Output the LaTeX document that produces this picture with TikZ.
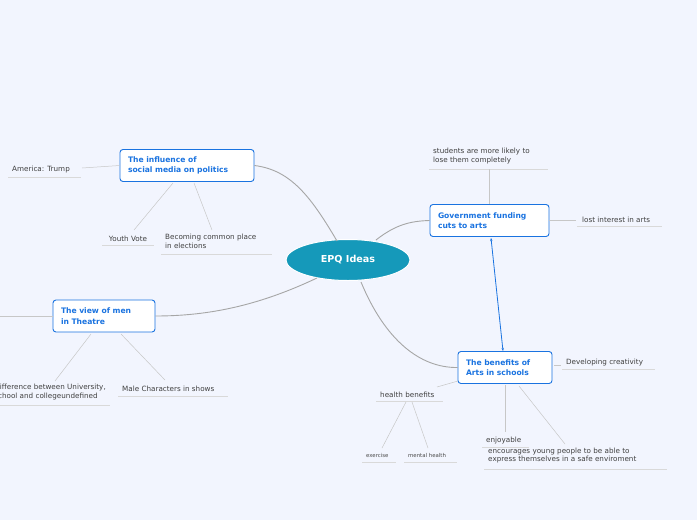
\documentclass[tikz,border=0pt]{standalone}
\usepackage{fontspec}
\setmainfont{DejaVu Sans}
\usetikzlibrary{shapes.geometric,arrows.meta}
\begin{document}
\begin{tikzpicture}[x=1pt,y=-1pt,
  mainbox/.style={draw=bblue,line width=0.9pt,rounded corners=3pt,fill=white,font=\bfseries\fontsize{7.6}{10.5}\selectfont,text=bblue,align=left,inner xsep=7pt,inner ysep=0pt,minimum height=32pt,anchor=center},
  leaf/.style={font=\fontsize{7.2}{8.6}\selectfont,text=black!75,align=left,inner sep=0pt},
  tiny/.style={font=\fontsize{5.4}{6.5}\selectfont,text=black!70,inner sep=0pt},
  uline/.style={draw=black!15,line width=0.8pt},
  conn/.style={draw=black!22,line width=0.5pt},
  curve/.style={draw=black!35,line width=0.9pt}]
\definecolor{bg}{HTML}{F2F5FE}
\definecolor{teal1}{HTML}{1599BA}
\definecolor{bblue}{HTML}{1A73E0}
\fill[bg] (0,0) rectangle (697,520);
\useasboundingbox (0,0) rectangle (697,520);
% main
\node[ellipse,fill=teal1,draw=white,line width=1pt,minimum width=124pt,minimum height=41pt,inner sep=0pt,text=white,font=\bfseries\fontsize{9.6}{11}\selectfont] (c) at (348,260) {EPQ Ideas};
\node[mainbox,minimum width=134pt,text width=118pt] (inf) at (187,165.5) {The influence of\\social media on politics};
\node[mainbox,minimum width=102pt,text width=86pt] (men) at (104,316) {The view of men\\in Theatre};
\node[mainbox,minimum width=119pt,text width=103pt] (gov) at (489.5,220.5) {Government funding\\cuts to arts};
\node[mainbox,minimum width=94pt,text width=78pt] (ben) at (505,367.5) {The benefits of\\Arts in schools};
% curves
\draw[curve] (337,241) .. controls (310,195) and (290,170) .. (inf.east);
\draw[curve] (317,278) .. controls (260,305) and (210,316) .. (men.east);
\draw[curve] (376,240) .. controls (395,225) and (410,221) .. (gov.west);
\draw[curve] (361,282) .. controls (385,340) and (420,368) .. (ben.west);
\draw[bblue,line width=0.8pt,{Stealth[length=3pt]}-{Stealth[length=3pt]}] (491,238) -- (503,351);
% leaves
\node[leaf,anchor=west] (am) at (12,170) {America: Trump};
\draw[uline] (8,177) -- (81,177);
\coordinate (amc) at (82,168);
\draw[conn] (inf.west) -- (amc);
\node[leaf] (yv) at (128,238.5) {Youth Vote};
\draw[uline] (102,245) -- (154,245);
\coordinate (yvc) at (134,230);
\draw[conn] (173,183) -- (yvc);
\node[leaf,anchor=north west] (bc) at (165,234) {Becoming common place\\in elections};
\draw[uline] (161,254) -- (272,254);
\coordinate (bcc) at (212,230);
\draw[conn] (194,183) -- (bcc);
\coordinate (ml) at (0,316);
\draw[conn] (men.west) -- (ml);
\node[leaf,anchor=north east] (diff) at (106,384) {Difference between University,\\school and collegeundefined};
\draw[uline] (0,405) -- (110,405);
\coordinate (diffc) at (55,381);
\draw[conn] (91,334) -- (diffc);
\node[leaf,anchor=west] (mc) at (122,389) {Male Characters in shows};
\draw[uline] (118,396) -- (228,396);
\coordinate (mcc) at (165,380);
\draw[conn] (121,334) -- (mcc);
\node[leaf,anchor=north west] (st) at (433,148) {students are more likely to\\lose them completely};
\draw[uline] (429,169) -- (548,169);
\coordinate (stc) at (489,169);
\draw[conn] (gov.north -| stc) -- (stc);
\node[leaf,anchor=west] (li) at (582,219.5) {lost interest in arts};
\draw[uline] (577,226) -- (662,226);
\coordinate (lic) at (576,220);
\draw[conn] (gov.east |- lic) -- (lic);
\node[leaf,anchor=west] (dc) at (566,362.5) {Developing creativity};
\draw[uline] (562,369) -- (655,369);
\coordinate (dcc) at (561,365);
\draw[conn] (554,365) -- (dcc);
\node[leaf,anchor=west] (hb) at (380,394.5) {health benefits};
\draw[uline] (376,401) -- (443,401);
\coordinate (hbc) at (437,387);
\draw[conn] (458,381) -- (hbc);
\node[tiny,anchor=west] (ex) at (366,455.5) {exercise};
\draw[uline] (362,462) -- (396,462);
\draw[conn] (406,402) -- (382,448);
\node[tiny,anchor=west] (mh) at (408,455.5) {mental health};
\draw[uline] (404,462) -- (457,462);
\draw[conn] (412,402) -- (428,448);
\node[leaf,anchor=west] (en) at (486,440.5) {enjoyable};
\draw[uline] (482,447) -- (529,447);
\coordinate (enc) at (505,432);
\draw[conn] (505,385) -- (enc);
\node[leaf,anchor=north west] (ey) at (488,447.5) {encourages young people to be able to\\express themselves in a safe enviroment};
\draw[uline] (484,469) -- (667,469);
\coordinate (eyc) at (565,444);
\draw[conn] (519,386) -- (eyc);
\end{tikzpicture}
\end{document}
